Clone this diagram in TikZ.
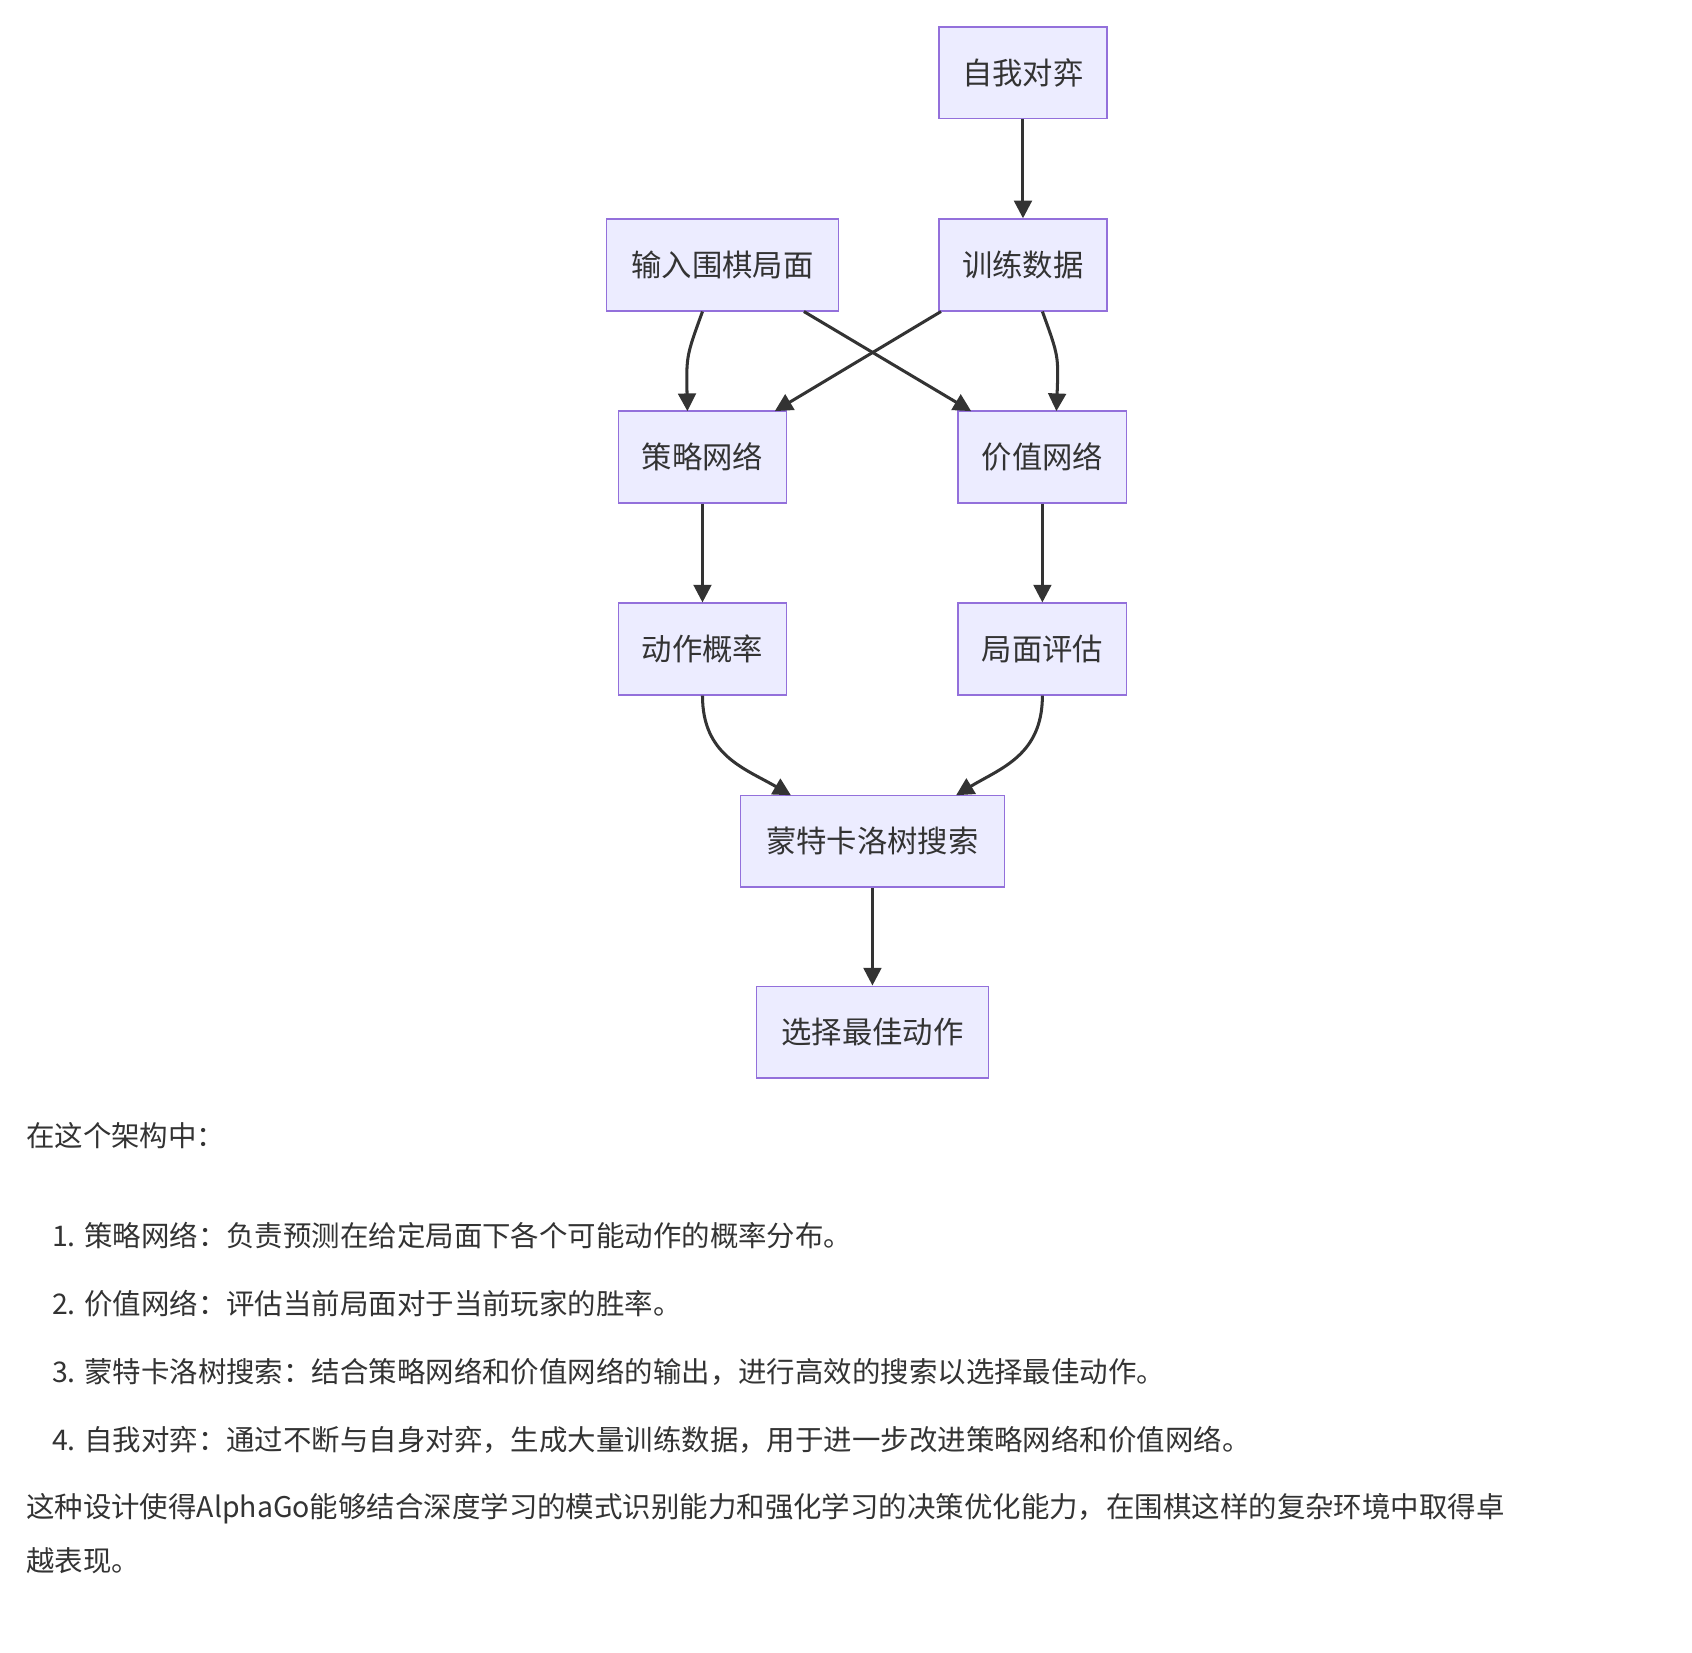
\documentclass[tikz,border=0pt]{standalone}
\usepackage{fontspec}
\setmainfont{Noto Sans CJK SC}
\usetikzlibrary{arrows.meta}
\definecolor{nfill}{HTML}{ECECFF}
\definecolor{nline}{HTML}{9370DB}
\definecolor{eline}{HTML}{333333}
\begin{document}
\begin{tikzpicture}[x=0.03cm,y=-0.03cm,
  box/.style={draw=nline,fill=nfill,line width=1.2pt,minimum height=85*0.03cm,inner xsep=0pt,font=\fontsize{24}{28}\selectfont,text=eline},
  edge/.style={draw=eline,line width=2.4pt,-{Triangle[length=14pt,width=14pt]}},
  txt/.style={anchor=west,inner sep=0pt,font=\fontsize{22.5}{28}\selectfont,text=eline}]
\useasboundingbox (0,0) rectangle (1568,1531);
\node[box,minimum width=156*0.03cm] (zw) at (948,67.5) {自我对弈};
\node[box,minimum width=215*0.03cm] (sr) at (669.5,245.5) {输入围棋局面};
\node[box,minimum width=156*0.03cm] (xl) at (948,245.5) {训练数据};
\node[box,minimum width=156*0.03cm] (cl) at (651,423.5) {策略网络};
\node[box,minimum width=156*0.03cm] (jz) at (966,423.5) {价值网络};
\node[box,minimum width=156*0.03cm] (dz) at (651,601.5) {动作概率};
\node[box,minimum width=156*0.03cm] (jm) at (966,601.5) {局面评估};
\node[box,minimum width=245*0.03cm] (mc) at (808.5,779.5) {蒙特卡洛树搜索};
\node[box,minimum width=215*0.03cm] (xz) at (808.5,956.5) {选择最佳动作};
\draw[edge] (zw) -- (xl);
\draw[edge] (sr.south -| 651,0) .. controls (636,330) .. (637,381);
\draw[edge] (sr.south -| 745,0) -- (900,381);
\draw[edge] (xl.south -| 872,0) -- (718,381);
\draw[edge] (xl.south -| 966,0) .. controls (981,330) .. (979,381);
\draw[edge] (cl) -- (dz);
\draw[edge] (jz) -- (jm);
\draw[edge] (dz.south) .. controls (651,700) and (690,712) .. (733,737);
\draw[edge] (jm.south) .. controls (966,700) and (927,712) .. (886,737);
\draw[edge] (mc) -- (xz);
\node[txt] (t0) at (24,1052) {在这个架构中：};
\node[txt] (t1) at (48,1145) {1. 策略网络：负责预测在给定局面下各个可能动作的概率分布。};
\node[txt] (t2) at (48,1208) {2. 价值网络：评估当前局面对于当前玩家的胜率。};
\node[txt] (t3) at (48,1271) {3. 蒙特卡洛树搜索：结合策略网络和价值网络的输出，进行高效的搜索以选择最佳动作。};
\node[txt] (t4) at (48,1334) {4. 自我对弈：通过不断与自身对弈，生成大量训练数据，用于进一步改进策略网络和价值网络。};
\node[txt] (t5) at (24,1398) {这种设计使得AlphaGo能够结合深度学习的模式识别能力和强化学习的决策优化能力，在围棋这样的复杂环境中取得卓};
\node[txt] (t6) at (24,1446) {越表现。};
\end{tikzpicture}
\end{document}
